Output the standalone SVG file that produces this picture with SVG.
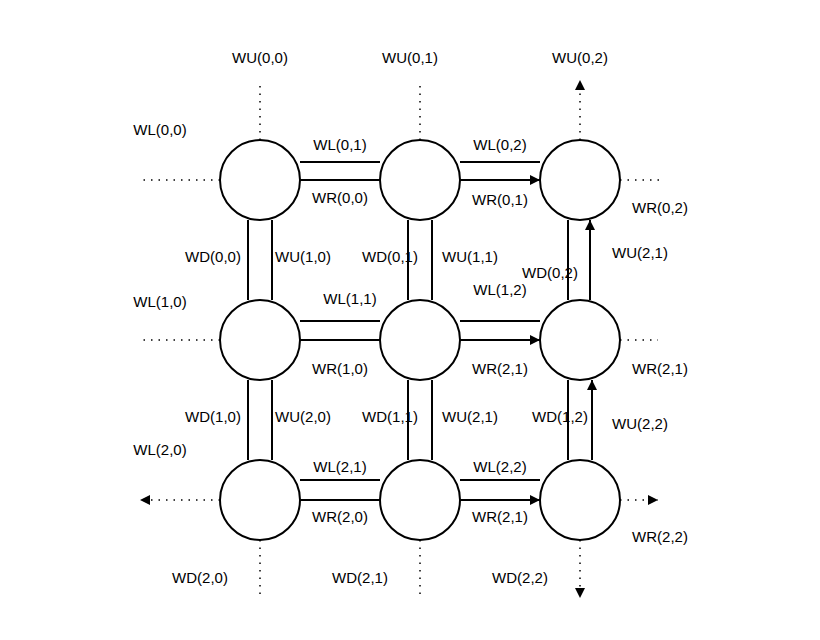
<svg xmlns="http://www.w3.org/2000/svg" width="820" height="640" viewBox="0 0 820 640">
<defs>
<marker id="a" viewBox="0 0 10 10" refX="10" refY="5" markerWidth="15" markerHeight="10" markerUnits="userSpaceOnUse" orient="auto"><path d="M0,0L10,5L0,10z" fill="#000"/></marker>
</defs>
<style>
.n{fill:#fff;stroke:#000;stroke-width:2}
.e{stroke:#000;stroke-width:2;fill:none;marker-end:url(#a)}
.d{stroke:#000;stroke-width:1.5;fill:none;stroke-dasharray:1.5 6;marker-end:url(#a)}
text{font-family:"Liberation Sans",Arial,sans-serif;font-size:15px;text-anchor:middle}
</style>
<rect width="820" height="640" fill="#fff"/>
<g id="connectors">
<path class="e" d="M380,162H300M300,180H380M540,162H460M460,180H540"/>
<path class="e" d="M380,321H300M300,340H380M540,321H460M460,340H540"/>
<path class="e" d="M380,480H300M300,500H380M540,480H460M460,500H540"/>
<path class="e" d="M248,220V300M272,300V220M408,220V300M432,300V220M568,220V300M590,300V220"/>
<path class="e" d="M248,380V460M272,460V380M408,380V460M432,460V380M568,380V460M592,460V380"/>
<path class="d" d="M220,180H140M220,340H140M220,500H140"/>
<path class="d" d="M620,180H665M620,340H658M620,500H658"/>
<path class="d" d="M260,140V80M420,140V80M580,140V80"/>
<path class="d" d="M260,540V598M420,540V598M580,540V598"/>
</g>
<g id="n00"><circle class="n" cx="260" cy="180" r="40"/></g>
<g id="n01"><circle class="n" cx="420" cy="180" r="40"/></g>
<g id="n02"><circle class="n" cx="580" cy="180" r="40"/></g>
<g id="n10"><circle class="n" cx="260" cy="340" r="40"/></g>
<g id="n11"><circle class="n" cx="420" cy="340" r="40"/></g>
<g id="n12"><circle class="n" cx="580" cy="340" r="40"/></g>
<g id="n20"><circle class="n" cx="260" cy="500" r="40"/></g>
<g id="n21"><circle class="n" cx="420" cy="500" r="40"/></g>
<g id="n22"><circle class="n" cx="580" cy="500" r="40"/></g>
<g id="labels">
<text x="260" y="63">WU(0,0)</text><text x="410" y="63">WU(0,1)</text><text x="580" y="63">WU(0,2)</text>
<text x="160" y="135">WL(0,0)</text><text x="160" y="307">WL(1,0)</text><text x="160" y="455">WL(2,0)</text>
<text x="340" y="150">WL(0,1)</text><text x="340" y="203">WR(0,0)</text><text x="500" y="150">WL(0,2)</text><text x="500" y="205">WR(0,1)</text><text x="660" y="213">WR(0,2)</text>
<text x="213" y="262">WD(0,0)</text><text x="303" y="262">WU(1,0)</text><text x="390" y="262">WD(0,1)</text><text x="470" y="262">WU(1,1)</text><text x="550" y="278">WD(0,2)</text><text x="640" y="258">WU(2,1)</text>
<text x="350" y="304">WL(1,1)</text><text x="500" y="295">WL(1,2)</text><text x="340" y="374">WR(1,0)</text><text x="500" y="374">WR(2,1)</text><text x="660" y="374">WR(2,1)</text>
<text x="213" y="422">WD(1,0)</text><text x="303" y="422">WU(2,0)</text><text x="390" y="422">WD(1,1)</text><text x="470" y="422">WU(2,1)</text><text x="560" y="422">WD(1,2)</text><text x="640" y="429">WU(2,2)</text>
<text x="340" y="472">WL(2,1)</text><text x="500" y="472">WL(2,2)</text><text x="340" y="522">WR(2,0)</text><text x="500" y="522">WR(2,1)</text><text x="660" y="542">WR(2,2)</text>
<text x="200" y="583">WD(2,0)</text><text x="360" y="583">WD(2,1)</text><text x="520" y="583">WD(2,2)</text>
</g>
</svg>
